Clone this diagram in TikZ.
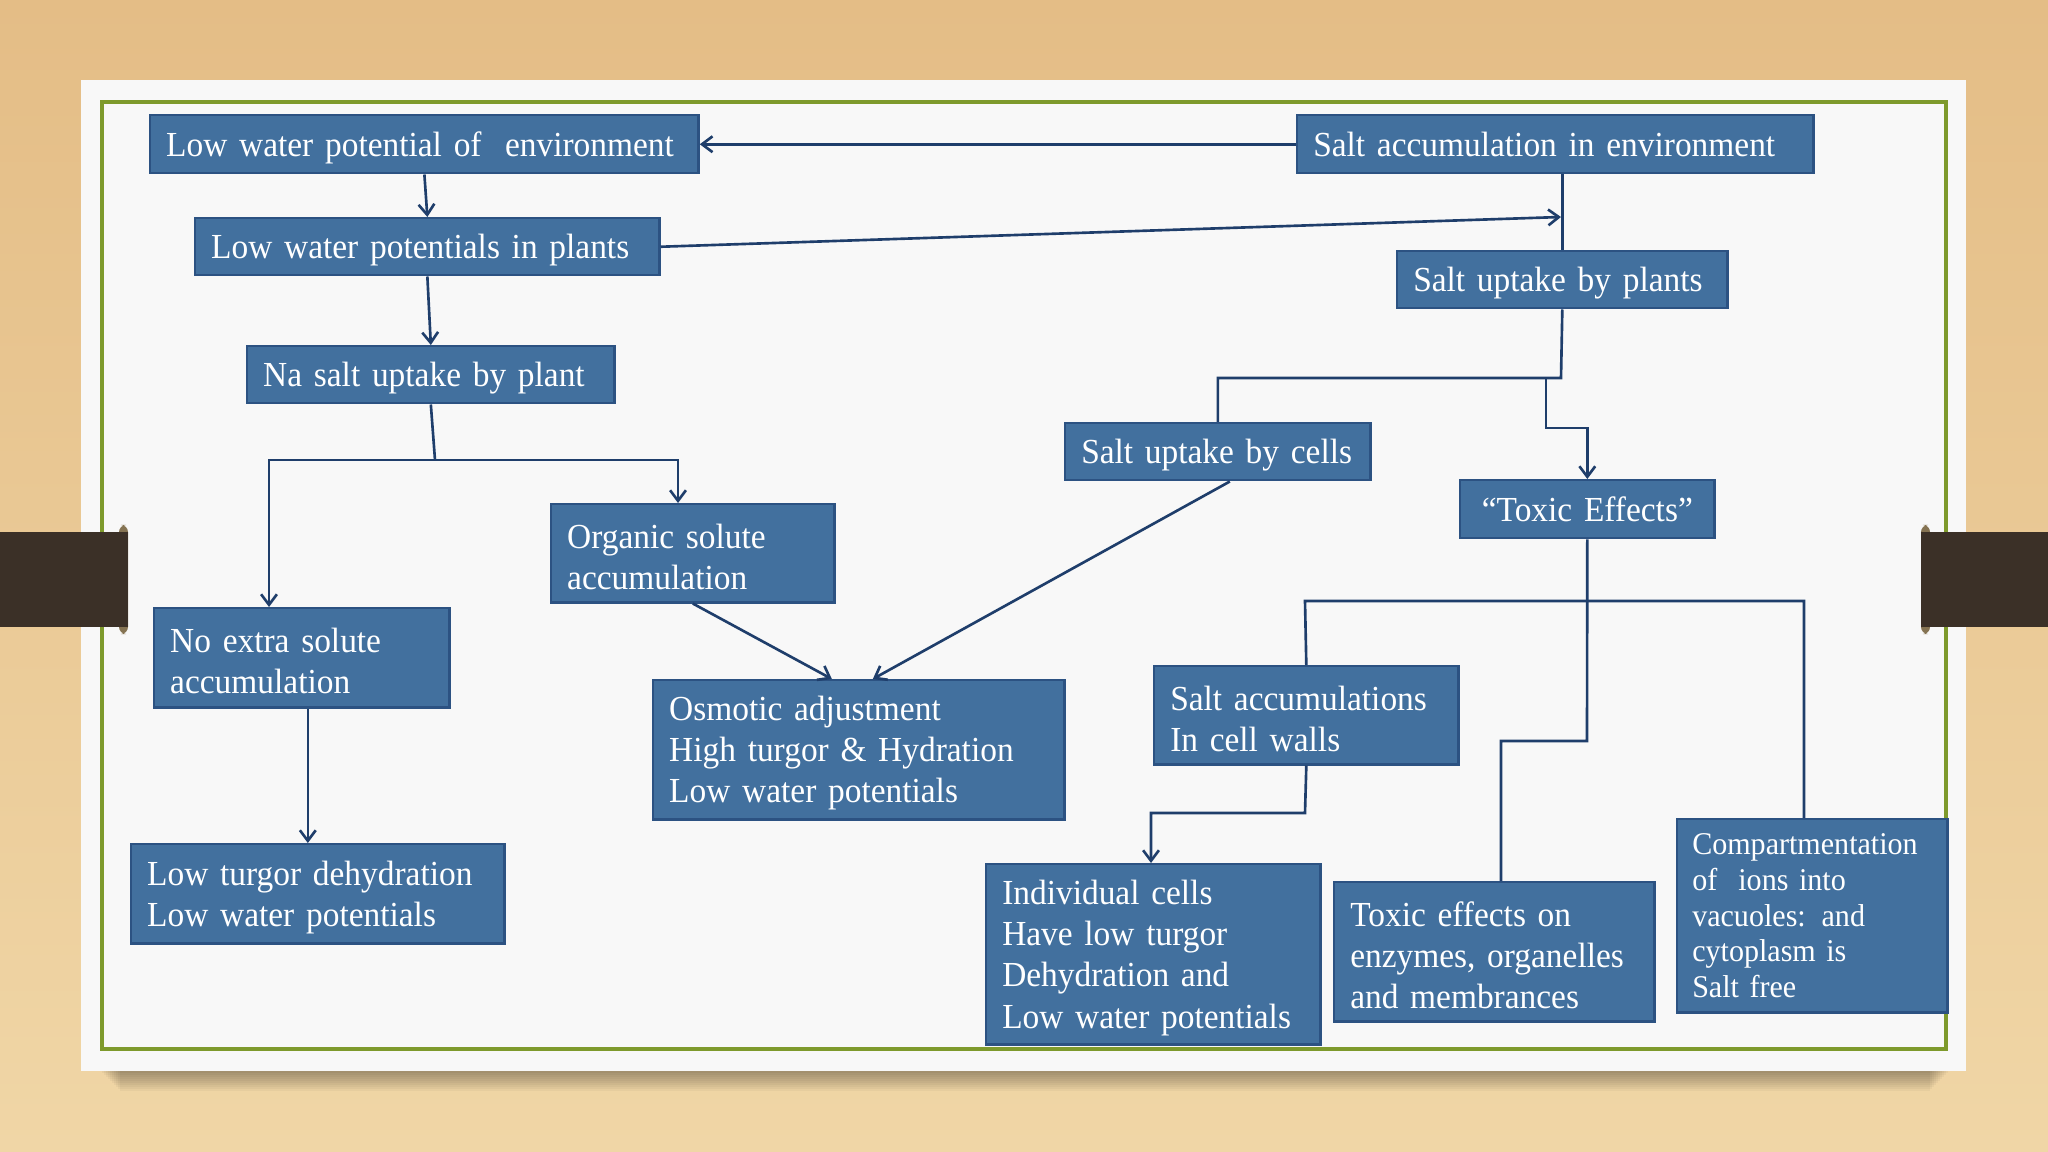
\documentclass[tikz,border=0pt]{standalone}
\usepackage{fontspec}
\setmainfont{Liberation Serif}[FakeStretch=0.95]
\usetikzlibrary{arrows.meta,calc}
\definecolor{boxfill}{HTML}{42709E}
\definecolor{boxline}{HTML}{2C5282}
\definecolor{connc}{HTML}{1F3E6B}
\definecolor{framec}{HTML}{7E9A2C}
\definecolor{paperc}{HTML}{F8F8F8}
\definecolor{woodtop}{HTML}{E4BD86}
\definecolor{woodbot}{HTML}{F0D6A6}
\definecolor{tabc}{HTML}{3B3027}
\definecolor{knobc}{HTML}{857352}
\newcommand\topgap{\rule{0pt}{9pt}}
\begin{document}
\begin{tikzpicture}[x=0.01cm,y=-0.01cm,
  box/.style={draw=boxline, line width=0.7pt, fill=boxfill, text=white, anchor=north west,
    inner xsep=0.16cm, inner ysep=0pt, align=left, font=\fontsize{10}{11.7}\selectfont},
  single/.style={box, text depth=0pt},
  smallbox/.style={box, inner xsep=0.15cm, font=\fontsize{9}{10.2}\selectfont},
  conn/.style={draw=connc, line width=0.75pt},
  arr/.style={conn, -{Straight Barb[length=3pt,width=4.5pt]}},
]
\useasboundingbox (0,0) rectangle (2048,1152);
% background
\shade[top color=woodtop, bottom color=woodbot] (0,0) rectangle (2048,1152);
% shadow
\foreach \i in {2,4,...,20} {
  \fill[black, opacity=0.035] (100+\i,1040) rectangle (1950-\i,1071+\i);
}
% paper
\fill[paperc] (81,80) rectangle (1966,1071);
\draw[framec, line width=0.9pt] (102,102) rectangle (1946,1049);
% tabs
\fill[knobc, rounded corners=2pt] (119,525) rectangle (128,634);
\fill[tabc] (0,532) rectangle (128,627);
\fill[knobc, rounded corners=2pt] (1921,525) rectangle (1930,634);
\fill[tabc] (1921,532) rectangle (2048,627);

% boxes
\node[single, minimum width=5.48cm, minimum height=0.58cm, text width=5.16cm] (lwpe) at (149,114) {\mbox{Low water potential of\ \ environment}};
\node[single, minimum width=5.16cm, minimum height=0.58cm, text width=4.84cm] (sae) at (1296,114) {\mbox{Salt accumulation in environment}};
\node[single, minimum width=4.64cm, minimum height=0.57cm, text width=4.32cm] (lwpp) at (194,217) {\mbox{Low water potentials in plants}};
\node[single, minimum width=3.30cm, minimum height=0.57cm, text width=2.98cm] (sup) at (1396,250) {\mbox{Salt uptake by plants}};
\node[single, minimum width=3.67cm, minimum height=0.57cm, text width=3.35cm] (na) at (246,345) {\mbox{Na salt uptake by plant}};
\node[single, minimum width=3.05cm, minimum height=0.57cm, text width=2.73cm] (suc) at (1064,422) {\mbox{Salt uptake by cells}};
\node[single, align=center, minimum width=2.54cm, minimum height=0.58cm, text width=2.22cm] (tox) at (1459,479) {\mbox{``Toxic Effects''}};
\node[box, minimum width=2.83cm, minimum height=0.98cm, text width=2.51cm] (org) at (550,503) {\mbox{\topgap Organic solute}\\\mbox{accumulation}};
\node[box, minimum width=2.95cm, minimum height=0.99cm, text width=2.63cm] (noex) at (153,607) {\mbox{\topgap No extra solute}\\\mbox{accumulation}};
\node[box, minimum width=4.11cm, minimum height=1.39cm, text width=3.79cm] (osm) at (652,679) {\mbox{\topgap Osmotic adjustment}\\\mbox{High turgor \& Hydration}\\\mbox{Low water potentials}};
\node[box, minimum width=3.04cm, minimum height=0.98cm, text width=2.72cm] (sacw) at (1153,665) {\mbox{\topgap Salt accumulations}\\\mbox{In cell walls}};
\node[box, minimum width=3.73cm, minimum height=0.99cm, text width=3.41cm] (ltd) at (130,843) {\mbox{\topgap Low turgor dehydration}\\\mbox{Low water potentials}};
\node[box, minimum width=3.34cm, minimum height=1.80cm, text width=3.02cm] (ic) at (985,863) {\mbox{\topgap Individual cells}\\\mbox{Have low turgor}\\\mbox{Dehydration and}\\\mbox{Low water potentials}};
\node[box, minimum width=3.20cm, minimum height=1.39cm, text width=2.88cm] (te) at (1333,881) {\mbox{\topgap Toxic effects on}\\\mbox{enzymes, organelles}\\\mbox{and membrances}};
\node[smallbox, minimum width=2.70cm, minimum height=1.93cm, text width=2.40cm] (comp) at (1676,818) {\mbox{Compartmentation}\\\mbox{of\ \ ions into}\\\mbox{vacuoles: and}\\\mbox{cytoplasm is}\\\mbox{Salt free}};

% connectors
\draw[arr] (sae.west) -- (lwpe.east);
\draw[arr] (lwpe.south) -- (lwpp.north);
\draw[arr] (lwpp.south) -- (na.north);
\coordinate (j1) at (1561,217);
\draw[conn] (sup.north |- sae.south) -- (sup.north);
\draw[arr] (lwpp.east) -- (j1);

\coordinate (nab) at (435,460);
\coordinate (nal) at (269,460);
\coordinate (nar) at (678,460);
\draw[conn] (na.south) -- (nab);
\draw[arr] (nab) -- (nal) -- (nal |- noex.north);
\draw[arr] (nab) -- (nar) -- (nar |- org.north);

\coordinate (nx) at ($(noex.south)+(6,0)$);
\draw[arr] (nx) -- (nx |- ltd.north);

\coordinate (s1) at (1561,378);
\draw[conn] (sup.south) -- (s1) -- (suc.north |- s1) -- (suc.north);
\coordinate (s2) at (1546,378);
\coordinate (s3) at (1546,428);
\draw[arr] (s2) -- (s3) -- (tox.north |- s3) -- (tox.north);

\draw[arr] ($(suc.south)+(12,0)$) -- ($(osm.north)+(14,0)$);
\draw[arr] (org.south) -- ($(osm.north)+(-27,0)$);

\coordinate (t2) at (1587,741);
\coordinate (t3) at (1501,741);
\draw[conn] (tox.south) -- (t2) -- (t3) -- (t3 |- te.north);
\coordinate (hl) at (1305,601);
\coordinate (hr) at (1804,601);
\draw[conn] (sacw.north) -- (hl) -- (hr) -- (hr |- comp.north);

\coordinate (c1) at (1305,813);
\coordinate (c2) at (1151,813);
\draw[arr] (sacw.south) -- (c1) -- (c2) -- (c2 |- ic.north);
\end{tikzpicture}
\end{document}
